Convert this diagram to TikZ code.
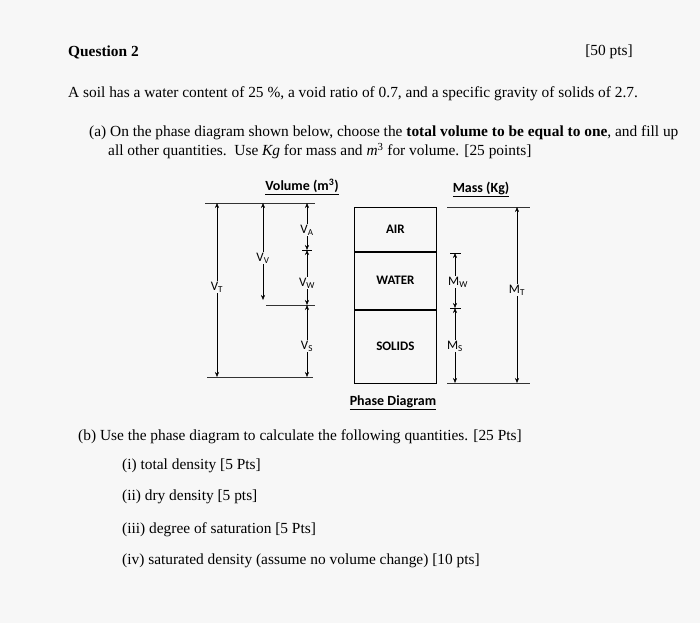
\documentclass[tikz,border=0pt]{standalone}
\usepackage{fontspec}
\setmainfont{Liberation Serif}
\newfontfamily\diag{Carlito}
\usetikzlibrary{arrows.meta}
\begin{document}
\begin{tikzpicture}[x=1pt,y=-1pt,
  txt/.style={anchor=west,inner sep=0pt,font=\fontsize{15.4}{18}\selectfont},
  lab/.style={inner sep=1pt,font=\diag\fontsize{13}{15}\selectfont},
  dim/.style={{Stealth[length=5pt,width=4pt]}-{Stealth[length=5pt,width=4pt]},thin},
  ln/.style={draw=black!80,thin},
  box/.style={draw,thick,minimum width=82pt,inner sep=0pt,font=\diag\bfseries\fontsize{13}{15}\selectfont}]
\fill[black!3] (0,0) rectangle (700,623);
\node[txt,font=\bfseries\fontsize{15.4}{18}\selectfont] (q) at (68,52) {Question 2};
\node[txt,anchor=east] (pts) at (633,52) {[50 pts]};
\node[txt] (p1) at (68,94) {A soil has a water content of 25 \%, a void ratio of 0.7, and a specific gravity of solids of 2.7.};
\node[txt] (a1) at (89,133) {(a) On the phase diagram shown below, choose the \textbf{total volume to be equal to one}, and fill up};
\node[txt] (a2) at (108,151) {all other quantities.\ \ Use \textit{Kg} for mass and \textit{m}\textsuperscript{3} for volume. [25 points]};
% volume side
\node[lab,font=\diag\bfseries\fontsize{14}{16}\selectfont] (vt) at (302,187) {\underline{Volume (m\textsuperscript{3})}};
\node[lab,font=\diag\bfseries\fontsize{14}{16}\selectfont] (mt) at (481,189) {\underline{Mass (Kg)}};
\coordinate (t1) at (205,203); \coordinate (t2) at (315,203);
\coordinate (b1) at (207,377); \coordinate (b2) at (313,377);
\draw[ln] (t1) -- (t2); \draw[ln] (b1) -- (b2);
\draw[ln] (266,305) -- (315,305);
\draw[dim] (217,203) -- (217,377);
\draw[dim] (263,203) -- (263,300);
\draw[dim] (307,203) -- (307,250);
\draw[dim] (307,250) -- (307,305);
\draw[dim] (307,305) -- (307,377);
\draw[thin] (302,250) -- (312,250);
\node[lab,fill=black!3] (lvt) at (217,287) {V\textsubscript{T}};
\node[lab,fill=black!3] (lvv) at (263,258) {V\textsubscript{V}};
\node[lab,fill=black!3] (lva) at (307,230) {V\textsubscript{A}};
\node[lab,fill=black!3] (lvw) at (307,283) {V\textsubscript{W}};
\node[lab,fill=black!3] (lvs) at (307,346) {V\textsubscript{S}};
% box
\node[box,minimum height=44pt,anchor=north west] (air) at (354,207) {AIR};
\node[box,minimum height=57pt,anchor=north] (water) at (air.south) {WATER};
\node[box,minimum height=73pt,anchor=north] (solids) at (water.south) {SOLIDS};
% mass side
\draw[ln] (447,207) -- (530,207); \draw[ln] (447,383) -- (530,383);
\draw[thin] (450,253) -- (461,253);
\draw[dim] (517,207) -- (517,383);
\draw[dim] (455,253) -- (455,308);
\draw[dim] (455,308) -- (455,383);
\draw[thin] (450,308) -- (461,308);
\node[lab,fill=black!3] (lmw) at (458,282) {M\textsubscript{W}};
\node[lab,fill=black!3] (lms) at (455,346) {M\textsubscript{S}};
\node[lab,fill=black!3] (lmt) at (517,290) {M\textsubscript{T}};
\node[lab,font=\diag\bfseries\fontsize{14}{16}\selectfont] (pd) at (393,403) {\underline{Phase Diagram}};
% part b
\node[txt] (b) at (78,437) {(b) Use the phase diagram to calculate the following quantities. [25 Pts]};
\node[txt] (i) at (122,466) {(i) total density [5 Pts]};
\node[txt] (ii) at (122,497) {(ii) dry density [5 pts]};
\node[txt] (iii) at (122,530) {(iii) degree of saturation [5 Pts]};
\node[txt] (iv) at (122,561) {(iv) saturated density (assume no volume change) [10 pts]};
\end{tikzpicture}
\end{document}
